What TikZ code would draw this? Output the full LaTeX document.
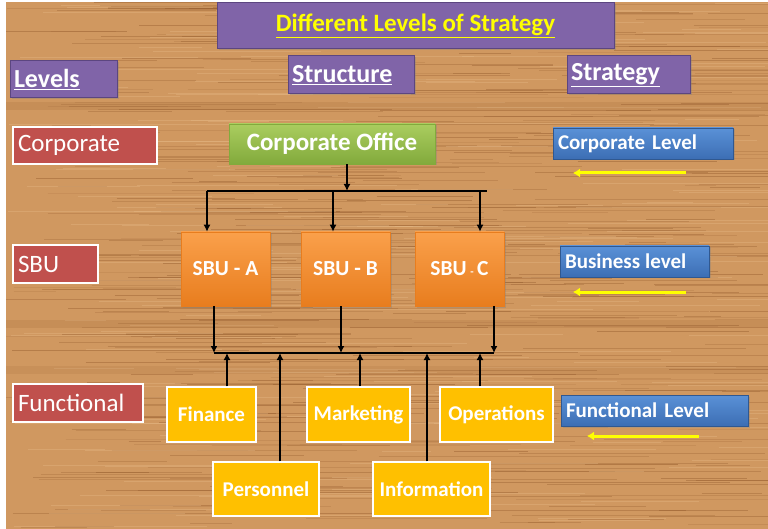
\documentclass[tikz,border=0pt]{standalone}
\usepackage{fontspec}
\setmainfont{Carlito}
\usetikzlibrary{arrows.meta,shadows}
\definecolor{wood}{RGB}{208,152,96}
\definecolor{wooddark}{RGB}{145,88,42}
\definecolor{woodlight}{RGB}{232,188,138}
\definecolor{purp}{RGB}{128,100,168}
\definecolor{purpd}{RGB}{92,70,128}
\definecolor{redb}{RGB}{192,80,77}
\definecolor{greent}{RGB}{170,205,95}
\definecolor{greenb}{RGB}{130,170,60}
\definecolor{oranget}{RGB}{250,160,75}
\definecolor{orangeb}{RGB}{232,125,30}
\definecolor{bluet}{RGB}{90,145,215}
\definecolor{blueb}{RGB}{60,110,180}
\definecolor{amber}{RGB}{255,192,0}
\definecolor{ttl}{RGB}{255,255,0}
\tikzset{
  purpbox/.style={draw=purpd, line width=1pt, fill=purp, inner sep=4pt, text=white,
    font=\fontsize{26}{30}\selectfont\bfseries, drop shadow={opacity=0.35, shadow xshift=1.5pt, shadow yshift=-1.5pt}},
  redbox/.style={draw=white, line width=1.5pt, fill=redb, inner sep=5pt, text=white,
    font=\fontsize{25}{29}\selectfont, align=left},
  greenbox/.style={draw=greenb, line width=0.6pt, top color=greent, bottom color=greenb, text=white,
    font=\fontsize{25}{29}\selectfont\bfseries, drop shadow={opacity=0.35, shadow xshift=1.5pt, shadow yshift=-1.5pt}},
  orbox/.style={draw=orangeb, line width=0.6pt, top color=oranget, bottom color=orangeb, text=white,
    font=\fontsize{21.5}{25}\selectfont\bfseries, drop shadow={opacity=0.35, shadow xshift=1.5pt, shadow yshift=-1.5pt}},
  bluebox/.style={draw=blueb!80!black, line width=0.6pt, top color=bluet, bottom color=blueb, text=white,
    font=\fontsize{21}{24}\selectfont\bfseries, inner sep=5pt, align=left, drop shadow={opacity=0.35, shadow xshift=1.5pt, shadow yshift=-1.5pt}},
  fnbox/.style={draw=white, line width=1.5pt, fill=amber, text=white,
    font=\fontsize{21}{24}\selectfont\bfseries},
  conn/.style={line width=2pt, black},
  connarr/.style={line width=2pt, black, -{Latex[length=7pt,width=7pt]}},
  yarr/.style={line width=3pt, ttl, -{Latex[length=7pt,width=9pt]}},
}
\begin{document}
\begin{tikzpicture}[x=1pt,y=-1pt]
% background
\useasboundingbox (0,0) rectangle (768,529);
\fill[white] (0,0) rectangle (768,529);
\fill[wood] (6,2) rectangle (768,529);
\pgfmathsetseed{7}
\foreach \i in {1,...,500}{
  \pgfmathsetmacro{\yy}{2+rnd*526}
  \pgfmathsetmacro{\xa}{rnd*720}
  \pgfmathsetmacro{\ll}{30+rnd*250}
  \pgfmathsetmacro{\op}{0.12+rnd*0.3}
  \pgfmathsetmacro{\lw}{0.3+rnd*0.8}
  \draw[wooddark, opacity=\op, line width=\lw pt] ({max(6,\xa)},\yy) -- ({min(768,\xa+\ll)},\yy);
}
\foreach \i in {1,...,200}{
  \pgfmathsetmacro{\yy}{2+rnd*526}
  \pgfmathsetmacro{\xa}{rnd*720}
  \pgfmathsetmacro{\ll}{40+rnd*250}
  \draw[woodlight, opacity=0.35, line width=1pt] ({max(6,\xa)},\yy) -- ({min(768,\xa+\ll)},\yy);
}
\fill[wooddark, opacity=0.15] (6,102) rectangle (768,110);
\fill[wooddark, opacity=0.15] (6,320) rectangle (768,328);
\fill[wooddark, opacity=0.12] (6,366) rectangle (768,374);

% headers
\node[purpbox, minimum width=397pt, minimum height=46pt, text=ttl, font=\fontsize{25}{29}\selectfont\bfseries] (title) at (415.5,26) {\underline{Different Levels of Strategy}};
\node[purpbox, minimum width=107pt, minimum height=37pt, text width=99pt, align=left] (levels) at (63.5,79.5) {\underline{Levels}};
\node[purpbox, minimum width=126pt, minimum height=38pt, text width=118pt, align=left] (structure) at (351,75) {\underline{Structure}};
\node[purpbox, minimum width=123pt, minimum height=38pt, text width=115pt, align=left] (strategy) at (628.5,75) {\underline{Strategy}};

% levels
\node[redbox, minimum width=144pt, minimum height=37pt, text width=134pt] (corp) at (85,145.5) {Corporate};
\node[redbox, minimum width=85pt, minimum height=38pt, text width=75pt] (sbu) at (55.5,264) {SBU};
\node[redbox, minimum width=130pt, minimum height=38pt, text width=120pt] (func) at (78,403) {Functional};

% structure
\node[greenbox, minimum width=206pt, minimum height=40pt] (office) at (332,144) {Corporate Office};
\node[orbox, minimum width=89pt, minimum height=74pt] (sbuA) at (225.5,269) {SBU - A};
\node[orbox, minimum width=89pt, minimum height=74pt] (sbuB) at (345.5,269) {SBU - B};
\node[orbox, minimum width=89pt, minimum height=74pt] (sbuC) at (459.5,269) {SBU\,{\fontsize{11}{12}\selectfont -}\,C};

\node[fnbox, minimum width=89pt, minimum height=55pt] (fin) at (211.5,414.5) {Finance};
\node[fnbox, minimum width=103pt, minimum height=55pt] (mkt) at (358.5,414.5) {Marketing};
\node[fnbox, minimum width=113pt, minimum height=55pt] (ops) at (496.5,414.5) {Operations};
\node[fnbox, minimum width=106pt, minimum height=54pt] (per) at (266,489) {Personnel};
\node[fnbox, minimum width=117pt, minimum height=54pt] (inf) at (431.5,489) {Information};

% strategy
\node[bluebox, minimum width=180pt, minimum height=31pt, text width=170pt] (cl) at (643,143.5) {Corporate Level};
\node[bluebox, minimum width=149pt, minimum height=31pt, text width=139pt] (bl) at (634.5,261.5) {Business\hspace{-2pt} level};
\node[bluebox, minimum width=187pt, minimum height=31pt, text width=177pt] (fl) at (654.5,410.5) {Functional Level};

\coordinate (ya1) at (686,173); \coordinate (yb1) at (573,173);
\coordinate (ya2) at (686,292); \coordinate (yb2) at (573,292);
\coordinate (ya3) at (699,436); \coordinate (yb3) at (587,436);
\draw[yarr] (ya1) -- (yb1);
\draw[yarr] (ya2) -- (yb2);
\draw[yarr] (ya3) -- (yb3);

% top connectors
\coordinate (j1) at (347,191);
\coordinate (tL) at (207,191);
\coordinate (tM) at (333,191);
\coordinate (tR) at (480,191);
\coordinate (tE) at (487,191);
\draw[connarr] (office.south -| j1) -- (j1);
\draw[conn] (tL) -- (tE);
\draw[connarr] (tL) -- (tL |- sbuA.north);
\draw[connarr] (tM) -- (tM |- sbuB.north);
\draw[connarr] (tR) -- (tR |- sbuC.north);

% bottom connectors
\coordinate (bA) at (214,353);
\coordinate (bB) at (341,353);
\coordinate (bC) at (494,353);
\draw[connarr] (bA |- sbuA.south) -- (bA);
\draw[connarr] (bB |- sbuB.south) -- (bB);
\draw[connarr] (bC |- sbuC.south) -- (bC);
\draw[conn] (bA) -- (bC);
\coordinate (uF) at (227,353);
\coordinate (uP) at (280,353);
\coordinate (uM) at (360,353);
\coordinate (uI) at (427,353);
\coordinate (uO) at (480,353);
\draw[connarr] (uF |- fin.north) -- (uF);
\draw[connarr] (uP |- per.north) -- (uP);
\draw[connarr] (uM |- mkt.north) -- (uM);
\draw[connarr] (uI |- inf.north) -- (uI);
\draw[connarr] (uO |- ops.north) -- (uO);
\end{tikzpicture}
\end{document}
